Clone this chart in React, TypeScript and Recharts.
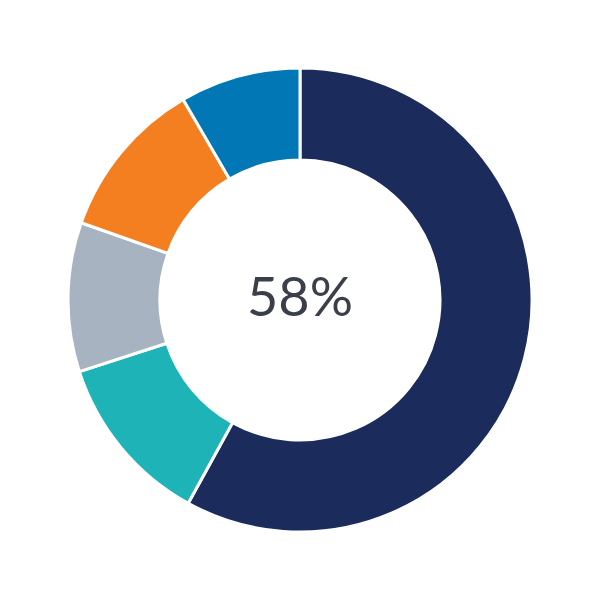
import React from "react";
import { PieChart, Pie, Cell } from "recharts";

const categories = ["A", "B", "C", "D", "E"];
const values = [58, 12, 10.4, 11.2, 8.4];
const colors = ["#1b2b5b", "#1eb4b7", "#a8b3c1", "#f37f21", "#0277b6"];
const centerLabel = "58%";

const data = categories.map((name, i) => ({ name, value: values[i] }));

export default function App() {
  return (
    <div style={{ position: "absolute", left: 0, top: 0, width: 600, height: 600, background: "#fff" }}>
      <PieChart width={600} height={600} margin={{ top: 0, right: 0, bottom: 0, left: 0 }}>
        <Pie
          data={data}
          dataKey="value"
          cx={300}
          cy={300}
          innerRadius={140}
          outerRadius={232}
          startAngle={90}
          endAngle={-270}
          stroke="#ffffff"
          strokeWidth={3}
          isAnimationActive={false}
        >
          {data.map((d, i) => (
            <Cell key={d.name} fill={colors[i]} />
          ))}
        </Pie>
        <text
          x={300}
          y={295}
          textAnchor="middle"
          dominantBaseline="central"
          fontFamily="Lato"
          fontSize={54}
          fontWeight={400}
          fill="#3a3f4a"
        >
          {centerLabel}
        </text>
      </PieChart>
    </div>
  );
}
